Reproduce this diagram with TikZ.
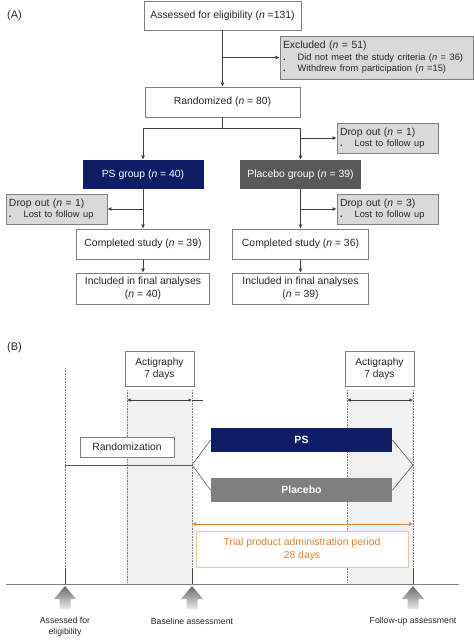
\documentclass[tikz,border=0pt]{standalone}
\usepackage{fontspec}
\setmainfont{Liberation Sans}
\usetikzlibrary{arrows.meta,calc}
\definecolor{navy}{HTML}{0F1D66}
\definecolor{dgray}{HTML}{595959}
\definecolor{mgray}{HTML}{7F7F7F}
\definecolor{lgray}{HTML}{D9D9D9}
\definecolor{shadegray}{HTML}{F1F1F1}
\definecolor{ora}{HTML}{E0822F}
\definecolor{linec}{HTML}{404040}
\newcommand{\bulsize}{\fontsize{9.3}{12.5}\selectfont}
\newcommand{\bul}{{\bfseries .}\hspace{12pt}}
\tikzset{
  box/.style={draw=mgray, line width=0.8pt, fill=white, inner sep=0pt, align=center, font=\fontsize{10.4}{13}\selectfont, text=black!85},
  gbox/.style={box, fill=lgray, align=left, text width=#1, inner xsep=3pt},
  darkbox/.style={box, draw=none, text=white},
  arr/.style={draw=linec, line width=0.7pt, -{Latex[length=4pt,width=4pt]}},
  ln/.style={draw=linec, line width=0.7pt},
  dotv/.style={draw=mgray, line width=0.5pt, dash pattern=on 0.8pt off 0.8pt},
  lab/.style={font=\fontsize{8.7}{11}\selectfont, align=center, text=black!85},
  uparrow/.style={top color=black!60, bottom color=black!8, draw=none},
}
\begin{document}
\begin{tikzpicture}[x=1pt,y=-1pt]
\useasboundingbox (0,0) rectangle (474,641);
% ---------- (A)
\node[lab, font=\fontsize{11}{13}\selectfont] (labA) at (14.5,16) {(A)};
\node[box, minimum width=157, minimum height=29] (assess) at (222.5,15.5) {Assessed for eligibility (\textit{n} =131)};
\node[gbox=187pt, minimum height=43] (excl) at (376.5,57.5) {Excluded (\textit{n} = 51)\\[-1.5pt]
{\bulsize\bul Did not meet the study criteria (\textit{n} = 36)}\\[-1.5pt]
{\bulsize\bul Withdrew from participation (\textit{n} =15)}};
\node[box, minimum width=155, minimum height=30] (rand) at (222.5,102) {Randomized (\textit{n} = 80)};
\node[gbox=95pt, minimum height=30] (drop1) at (387.5,138) {Drop out (\textit{n} = 1)\\[-1.5pt]{\bulsize\bul Lost to follow up}};
\node[darkbox, fill=navy, minimum width=121, minimum height=29] (ps) at (143,174.5) {PS group (\textit{n} = 40)};
\node[darkbox, fill=dgray, minimum width=121, minimum height=29] (pl) at (300.5,174.5) {Placebo group (\textit{n} = 39)};
\node[gbox=95pt, minimum height=30] (dropL) at (56.5,209) {Drop out (\textit{n} = 1)\\[-1.5pt]{\bulsize\bul Lost to follow up}};
\node[gbox=95pt, minimum height=30] (dropR) at (387.5,209) {Drop out (\textit{n} = 3)\\[-1.5pt]{\bulsize\bul Lost to follow up}};
\node[box, minimum width=133, minimum height=30] (compL) at (143,244) {Completed study (\textit{n} = 39)};
\node[box, minimum width=136, minimum height=30] (compR) at (300.5,244) {Completed study (\textit{n} = 36)};
\node[box, minimum width=133, minimum height=31] (inclL) at (143,288.5) {Included in final analyses\\(\textit{n} = 40)};
\node[box, minimum width=136, minimum height=31] (inclR) at (300.5,288.5) {Included in final analyses\\(\textit{n} = 39)};
% connectors A
\draw[arr] (assess.south) -- (rand.north);
\draw[arr] (assess.south |- excl.west) -- (excl.west);
\coordinate (split) at (222.5,128);
\draw[ln] (rand.south) -- (split);
\draw[arr] (split) -| (ps.north);
\draw[arr] (split) -| (pl.north);
\draw[arr] (pl.north |- drop1.west) -- (drop1.west);
\draw[arr] (ps.south) -- (compL.north);
\draw[arr] (ps.south |- dropL.east) -- (dropL.east);
\draw[arr] (pl.south) -- (compR.north);
\draw[arr] (pl.south |- dropR.west) -- (dropR.west);
\draw[arr] (compL.south) -- (inclL.north);
\draw[arr] (compR.south) -- (inclR.north);
% ---------- (B)
\node[lab, font=\fontsize{11}{13}\selectfont] (labB) at (14.5,348) {(B)};
\fill[shadegray] (127,390) rectangle (192,584);
\fill[shadegray] (347,390) rectangle (413,584);
\draw[dotv] (65,368) -- (65,584);
\draw[dotv] (127,390) -- (127,584);
\draw[dotv] (192,390) -- (192,584);
\draw[dotv] (347,390) -- (347,584);
\draw[dotv] (413,390) -- (413,584);
\node[box, minimum width=69, minimum height=35, font=\fontsize{10.2}{12}\selectfont] (act1) at (159.5,368.5) {Actigraphy\\7 days};
\node[box, minimum width=69, minimum height=35, font=\fontsize{10.2}{12}\selectfont] (act2) at (379.5,368.5) {Actigraphy\\7 days};
\coordinate (a1l) at (127,400); \coordinate (a1r) at (192,400); \coordinate (a1x) at (203,400);
\draw[ln, line width=0.6pt, {Latex[length=3.5pt,width=3.5pt]}-{Latex[length=3.5pt,width=3.5pt]}] (a1l) -- (a1r);
\draw[ln, line width=0.6pt] (a1r) -- (a1x);
\coordinate (a2l) at (347,400); \coordinate (a2r) at (413,400);
\draw[ln, line width=0.6pt, {Latex[length=3.5pt,width=3.5pt]}-{Latex[length=3.5pt,width=3.5pt]}] (a2l) -- (a2r);
\node[box, minimum width=94, minimum height=20] (randz) at (127,447) {Randomization};
\node[darkbox, fill=navy, minimum width=181, minimum height=24, font=\bfseries\fontsize{10.5}{12}\selectfont] (psbar) at (301.5,440) {PS};
\node[darkbox, fill=mgray, minimum width=181, minimum height=24, font=\bfseries\fontsize{10.5}{12}\selectfont] (plbar) at (301.5,490) {Placebo};
\coordinate (rs) at (65,465); \coordinate (rj) at (192,465); \coordinate (rk) at (413,465);
\draw[ln, draw=dgray] (rs) -- (rj);
\draw[ln, draw=dgray, line width=0.6pt] (rj) -- (psbar.west);
\draw[ln, draw=dgray, line width=0.6pt] (rj) -- (plbar.west);
\draw[ln, draw=dgray, line width=0.6pt] (psbar.east) -- (rk);
\draw[ln, draw=dgray, line width=0.6pt] (plbar.east) -- (rk);
\coordinate (ol) at (192,524); \coordinate (or) at (413,524);
\draw[draw=ora, line width=0.9pt, {Latex[length=4pt,width=4pt]}-{Latex[length=4pt,width=4pt]}] (ol) -- (or);
\node[box, draw=ora!45, text=ora, minimum width=212, minimum height=36, font=\fontsize{10.4}{13}\selectfont] (trial) at (302,549) {Trial product administration period\\28 days};
% timeline
\coordinate (tl) at (6,584); \coordinate (tr) at (459,584);
\draw[draw=mgray, line width=0.7pt] (tl) -- (tr);
\foreach \x/\n in {65/e,192/b,413/f}{
  \draw[draw=linec, line width=0.8pt] (\x,568) -- (\x,584);
  \shade[uparrow] (\x,586) -- (\x+11,599) -- (\x+5.5,599) -- (\x+5.5,609) -- (\x-5.5,609) -- (\x-5.5,599) -- (\x-11,599) -- cycle;
}
\node[lab] (le) at (65,626.5) {Assessed for\\eligibility};
\node[lab] (lb) at (192,621) {Baseline assessment};
\node[lab] (lf) at (413,621) {Follow-up assessment};
\end{tikzpicture}
\end{document}
